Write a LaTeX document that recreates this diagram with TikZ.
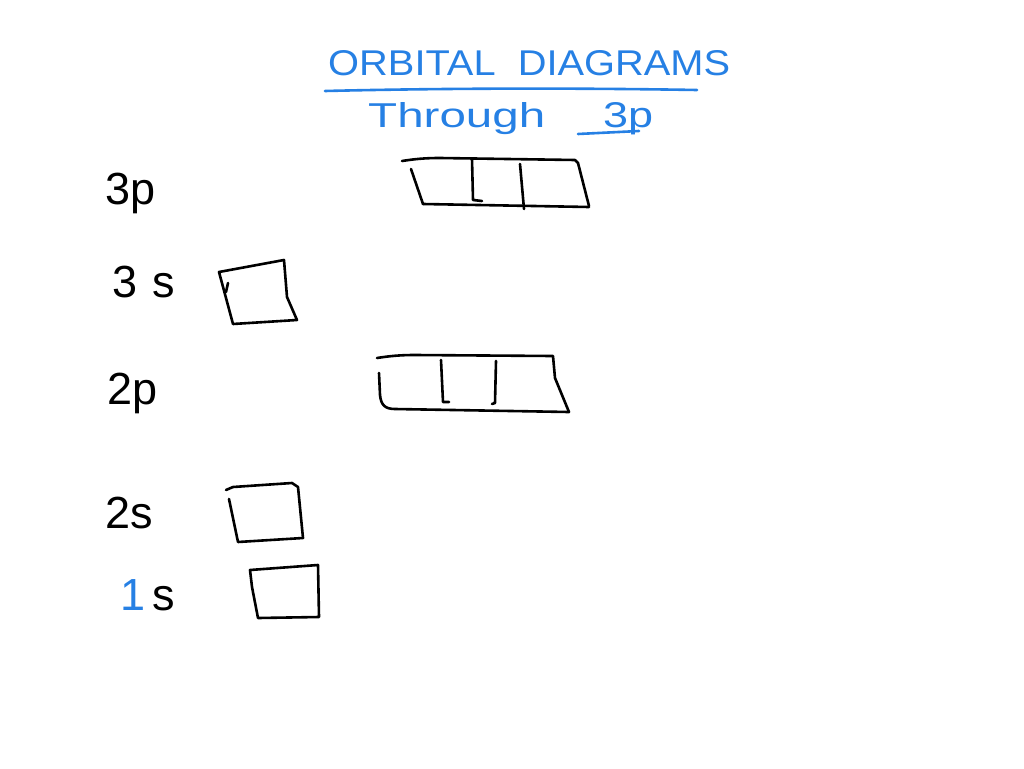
\documentclass[tikz,border=0pt]{standalone}
\usepackage{fontspec}
\setmainfont{Liberation Sans}
\usepackage{graphicx}
\definecolor{penblue}{RGB}{38,128,228}
\tikzset{
  ink/.style={line width=2.6pt, line cap=round, line join=round, black},
  blueink/.style={line width=2.6pt, line cap=round, line join=round, penblue},
  lbl/.style={anchor=base west, inner sep=0pt, font=\fontsize{45}{45}\selectfont},
  ttl/.style={anchor=base west, inner sep=0pt, text=penblue},
}
\begin{document}
\begin{tikzpicture}[x=1pt,y=-1pt]
\useasboundingbox (0,0) rectangle (1024,768);
% title
\node[ttl] (title) at (328,75) {\resizebox{402pt}{25pt}{ORBITAL\ \ DIAGRAMS}};
\draw[blueink] (325,91) .. controls (450,88) and (580,88) .. (697,90);
\node[ttl] (through) at (368,127) {\resizebox{177pt}{25pt}{Through}};
\node[ttl] (thrp) at (603,127) {\resizebox{50pt}{25pt}{3p}};
\draw[blueink] (578,134) -- (639,131);
% labels
\node[lbl] (l3p) at (105,204) {3p};
\node[lbl] (l3s) at (112,297) {3\,\,s};
\node[lbl] (l2p) at (107,404) {2p};
\node[lbl] (l2s) at (105,528) {2s};
\node[lbl] (l1s) at (120,610) {\textcolor{penblue}{1}\,s};
% 3p box
\draw[ink] (402,161) .. controls (415,159) and (425,158) .. (440,158) -- (575,160) -- (578,163) -- (589,206);
\draw[ink] (423,204) -- (589,207);
\draw[ink] (411,169) -- (423,204);
\draw[ink] (472,159) -- (473,200) -- (482,201);
\draw[ink] (520,164) -- (524,209);
% 3s box
\draw[ink] (219,272) -- (284,260) -- (287,297) -- (297,320) -- (233,324) -- cycle;
\draw[ink] (228,283) -- (226,292);
% 2p box
\draw[ink] (377,358) .. controls (390,356) and (400,355) .. (415,355) -- (553,356) -- (555,378) -- (569,412);
\draw[ink] (379,373) -- (380,395) .. controls (381,405) and (385,409) .. (395,409) -- (569,412);
\draw[ink] (441,360) -- (443,402) -- (449,402);
\draw[ink] (496,361) -- (495,403) -- (492,404);
% 2s box
\draw[ink] (226,490) -- (233,487) -- (292,483) -- (298,487) -- (303,538) -- (238,542) -- (229,499);
% 1s box
\draw[ink] (250,570) -- (318,565) -- (319,617) -- (258,618) -- (252,587) -- cycle;
\end{tikzpicture}
\end{document}
